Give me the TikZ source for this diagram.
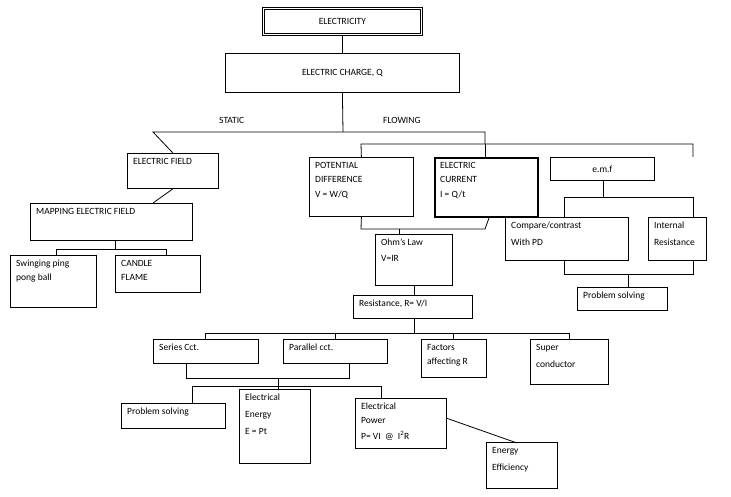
\documentclass[tikz,border=0pt]{standalone}
\usepackage{fontspec}
\setmainfont{Carlito}
\begin{document}
\begin{tikzpicture}[x=1pt,y=-1pt,
  box/.style={draw,line width=0.8pt,inner sep=0pt,anchor=north west},
  txt/.style={anchor=north west,inner sep=0pt,align=left,font=\fontsize{9.5}{14}\selectfont},
  ln/.style={line width=0.8pt}]
\useasboundingbox (0,0) rectangle (731,497);
\newcommand\bx[6]{%
  \node[box,minimum width={#4-#2},minimum height={#5-#3}] (#1) at (#2,#3) {};
  \node[txt] (#1t) at (#2+6,#3+5) {#6};}
% top
\node[box,double,double distance=1.5pt,minimum width=158,minimum height=26] (el) at (263,8) {};
\node[font=\fontsize{9.5}{12}\selectfont] (elt) at (el.center) {ELECTRICITY};
\node[box,minimum width=234,minimum height=39] (ch) at (225,53) {};
\node[font=\fontsize{9.5}{12}\selectfont] (cht) at (ch.center) {ELECTRIC CHARGE, Q};
\draw[ln] (el.south) -- (ch.north);
\node[txt] (st) at (219,117) {STATIC};
\node[txt] (fl) at (383,117) {FLOWING};
\coordinate (j1) at (343,132);
\draw[ln] (ch.south) -- (j1);
% static
\bx{ef}{127}{153}{218}{188}{ELECTRIC FIELD}
\bx{mp}{30}{203}{192}{240}{MAPPING ELECTRIC FIELD}
\bx{sw}{10}{255}{96}{307}{Swinging ping\\pong ball}
\bx{cf}{115}{255}{200}{292}{CANDLE\\FLAME}
\draw[ln] (ef.north) -- (153,132) -| (485,144);
\draw[ln] (ef.south) -- (153,203);
\draw[ln] (mp.south -| 115,0) -- (115,249);
\draw[ln] (sw.north -| 56,0) -- (56,249) -- (166,249) -- (cf.north -| 166,0);
% flowing
\bx{pd}{309}{157}{413}{216}{POTENTIAL\\DIFFERENCE\\[1pt]V = W/Q}
\node[box,line width=1.6pt,minimum width=103,minimum height=59] (ec) at (434,157) {};
\node[txt] (ect) at (440,162) {ELECTRIC\\CURRENT\\[1pt]I = Q/t};
\bx{emf}{550}{157}{654}{180}{}
\node[font=\fontsize{9.5}{12}\selectfont] (emft) at (emf.center) {e.m.f};
\draw[ln] (pd.north) -- (361,144) -- (693,144) -- (693,157);
\draw[ln] (485,144) -- (ec.north -| 485,0);
\bx{oh}{375}{234}{452}{285}{Ohm’s Law\\[2pt]V=IR}
\draw[ln] (pd.south) -- (361,229) -- (485,229) -- (489,218);
\draw[ln] (399,229) -- (oh.north -| 399,0);
\bx{cc}{505}{217}{628}{260}{Compare/contrast\\[3pt]With PD}
\bx{ir}{648}{217}{706}{260}{Internal\\[3pt]Resistance}
\bx{ps1}{577}{287}{667}{310}{Problem solving}
\draw[ln] (emf.south -| 603,0) -- (603,197);
\draw[ln] (cc.north -| 564,0) -- (564,197) -- (693,197) -- (ir.north -| 693,0);
\draw[ln] (cc.south -| 564,0) -- (564,274) -- (693,274) -- (ir.south -| 693,0);
\draw[ln] (628,274) -- (ps1.north -| 628,0);
\bx{rs}{353}{295}{472}{318}{Resistance, R= V/I}
\draw[ln] (oh.south -| 414,0) -- (rs.north -| 414,0);
\bx{se}{153}{339}{258}{363}{Series Cct.}
\bx{pa}{283}{339}{387}{363}{Parallel cct.}
\bx{fa}{421}{339}{486}{377}{Factors\\affecting R}
\bx{su}{530}{339}{608}{384}{Super\\[3pt]conductor}
\draw[ln] (rs.south -| 414,0) -- (414,333);
\draw[ln] (se.north -| 205,0) -- (205,333) -- (569,333) -- (su.north -| 569,0);
\draw[ln] (pa.north -| 335,0) -- (335,333);
\draw[ln] (fa.north -| 453,0) -- (453,333);
\draw[ln] (se.south -| 186,0) -- (186,378) -- (349,378) -- (pa.south -| 349,0);
\bx{ps2}{121}{403}{225}{428}{Problem solving}
\bx{ee}{239}{389}{310}{463}{Electrical\\[3pt]Energy\\[3pt]E = Pt}
\bx{pw}{355}{398}{446}{448}{Electrical\\Power\\[2pt]P= VI\ \ @\ \ I\textsuperscript{2}R}
\bx{eff}{486}{442}{557}{488}{Energy\\[3pt]Efficiency}
\draw[ln] (278,378) -- (ee.north -| 278,0);
\draw[ln] (ps2.north -| 192,0) -- (192,386) -- (381,386) -- (pw.north -| 381,0);
\draw[ln] (446,418) -- (517,443);
\end{tikzpicture}
\end{document}
